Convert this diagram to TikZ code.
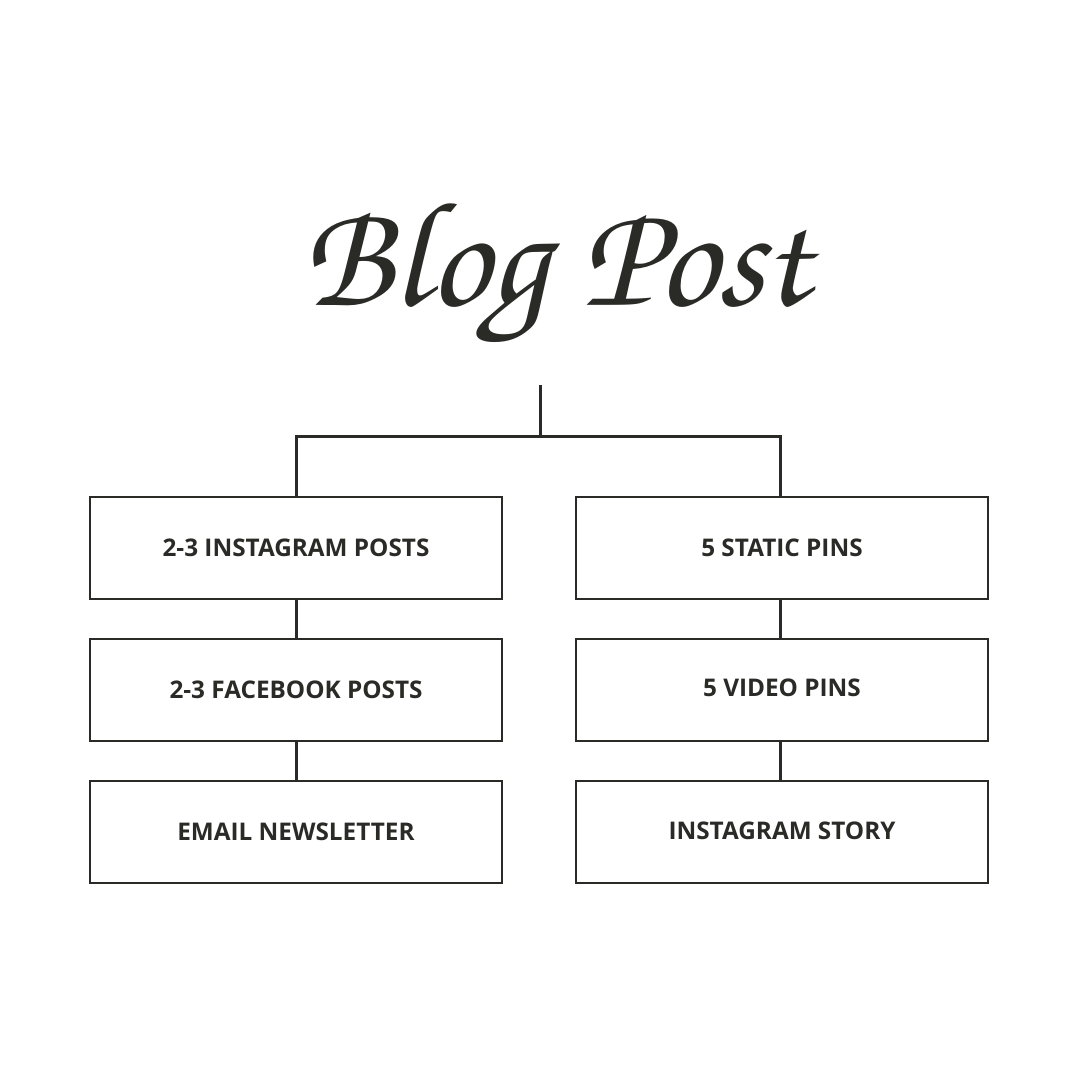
\documentclass[tikz,border=0pt]{standalone}
\usepackage{fontspec}
\newfontfamily\boxfont{Open Sans}
\newfontfamily\titlefont{texgyrechorus-mediumitalic.otf}
\definecolor{ink}{HTML}{2A2A26}
\begin{document}
\begin{tikzpicture}[x=1pt,y=-1pt,
  itembox/.style={draw=ink, line width=1.8pt, minimum width=412pt, minimum height=102pt,
    inner sep=0pt, text=ink, font=\boxfont\bfseries\fontsize{24.3}{28}\selectfont},
  conn/.style={draw=ink, line width=3pt}]
\useasboundingbox[fill=white] (0,0) rectangle (1080,1080);
\node[text=ink, font=\titlefont\fontsize{150}{160}\selectfont, anchor=base] (title) at (556,305) {Blog Post};
\node[itembox] (l1) at (296,548) {2-3 INSTAGRAM POSTS};
\node[itembox] (l2) at (296,690) {2-3 FACEBOOK POSTS};
\node[itembox] (l3) at (296,832) {\raisebox{1pt}{EMAIL NEWSLETTER}};
\node[itembox] (r1) at (782,548) {5 STATIC PINS};
\node[itembox] (r2) at (782,690) {\raisebox{4pt}{5 VIDEO PINS}};
\node[itembox] (r3) at (782,832) {\raisebox{3pt}{INSTAGRAM STORY}};
\coordinate (top) at (540,385);
\coordinate (bar) at (540,436);
\draw[conn] (top) -- (bar);
\draw[conn] (bar) -| (l1.north);
\draw[conn] (bar) -| ([xshift=-2pt]r1.north);
\draw[conn] (l1.south) -- (l2.north);
\draw[conn] (l2.south) -- (l3.north);
\draw[conn] ([xshift=-2pt]r1.south) -- ([xshift=-2pt]r2.north);
\draw[conn] ([xshift=-2pt]r2.south) -- ([xshift=-2pt]r3.north);
\end{tikzpicture}
\end{document}
